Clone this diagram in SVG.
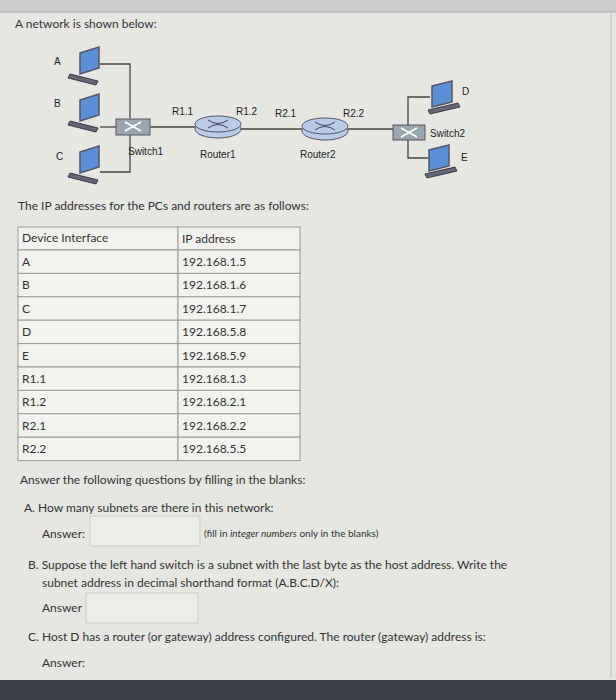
<svg xmlns="http://www.w3.org/2000/svg" width="616" height="700" viewBox="0 0 616 700">
<style>
text{font-family:Lato,"Liberation Sans",sans-serif;fill:#333}
.s{font-size:12px}.n{font-size:10px;font-family:"Liberation Sans",Arial,sans-serif;fill:#222}
.c{fill:none;stroke:#444;stroke-width:1.3}
.cell{fill:#f2f2ef;stroke:#999;stroke-width:1}
.mon{fill:#5b8fd6;stroke:#556;stroke-width:1.5}
.kb{fill:#667;stroke:#223;stroke-width:.8}
.sw{fill:#9aa6ad;stroke:#556;stroke-width:1}
.rt{fill:#b9cbe6;stroke:#556;stroke-width:1}
.x{fill:none;stroke:#fff;stroke-width:1.5}
.rx{fill:none;stroke:#445;stroke-width:1}
.box{fill:#ecece9;stroke:#ccc;stroke-width:1}
</style>
<rect width="616" height="700" fill="#e6e6e3"/>
<rect width="616" height="12" fill="#c9ccca"/>
<line x1="0" y1="12" x2="616" y2="12" stroke="#aaa"/>
<rect x="0" y="680" width="616" height="20" fill="#3a3f47"/>
<line x1="611" y1="14" x2="611" y2="678" stroke="#bbb"/>
<text x="15" y="28" class="s">A network is shown below:</text>
<g id="connectors">
<polyline class="c" points="100,64 130,64 130,118"/>
<line class="c" x1="100" y1="127" x2="116" y2="127"/>
<polyline class="c" points="100,172 130,172 130,135"/>
<line class="c" x1="150" y1="127" x2="195" y2="127"/>
<line class="c" x1="240" y1="129" x2="302" y2="129"/>
<line class="c" x1="348" y1="129" x2="395" y2="129"/>
<polyline class="c" points="430,97 408,97 408,126"/>
<polyline class="c" points="428,158 408,158 408,140"/>
</g>
<g id="A"><polygon class="mon" points="80,53 99,47 99,68 80,74"/><polygon class="kb" points="70,74 98,81 96,85 68,78"/><text x="54" y="65" class="n">A</text></g>
<g id="B"><polygon class="mon" points="80,100 99,94 99,115 80,121"/><polygon class="kb" points="70,121 98,128 96,132 68,125"/><text x="54" y="107" class="n">B</text></g>
<g id="C"><polygon class="mon" points="80,152 99,146 99,167 80,173"/><polygon class="kb" points="70,173 98,180 96,184 68,177"/><text x="56" y="160" class="n">C</text></g>
<g id="Switch1"><rect class="sw" x="116" y="119" width="34" height="16"/><path class="x" d="M125 122 L141 131 M125 131 L141 122"/><text x="128" y="155" class="n">Switch1</text></g>
<g id="Router1"><ellipse class="rt" cx="218" cy="129" rx="23" ry="9"/><ellipse class="rt" cx="218" cy="124" rx="23" ry="8"/><path class="rx" d="M208 120 Q218 127 228 120 M208 128 Q218 121 228 128"/><text x="172" y="115" class="n">R1.1</text><text x="236" y="115" class="n">R1.2</text><text x="200" y="158" class="n">Router1</text></g>
<g id="Router2"><ellipse class="rt" cx="325" cy="131" rx="23" ry="9"/><ellipse class="rt" cx="325" cy="126" rx="23" ry="8"/><path class="rx" d="M315 122 Q325 129 335 122 M315 130 Q325 123 335 130"/><text x="275" y="117" class="n">R2.1</text><text x="343" y="117" class="n">R2.2</text><text x="300" y="158" class="n">Router2</text></g>
<g id="Switch2"><rect class="sw" x="393" y="125" width="32" height="15"/><path class="x" d="M401 128 L417 137 M401 137 L417 128"/><text x="430" y="137" class="n">Switch2</text></g>
<g id="D"><polygon class="mon" points="432,86 452,81 452,102 432,107"/><polygon class="kb" points="428,110 458,103 460,107 430,114"/><text x="462" y="95" class="n">D</text></g>
<g id="E"><polygon class="mon" points="429,150 449,145 449,166 429,171"/><polygon class="kb" points="425,174 455,167 457,171 427,178"/><text x="461" y="161" class="n">E</text></g>
<text x="18" y="210" class="s">The IP addresses for the PCs and routers are as follows:</text>
<g id="table">
<rect class="cell" x="18" y="227" width="160" height="23"/><rect class="cell" x="178" y="227" width="122" height="23"/>
<text x="22" y="242" class="s">Device Interface</text><text x="182" y="243" class="s">IP address</text>
<g class="s">
<rect class="cell" x="18" y="250" width="160" height="23.4"/><rect class="cell" x="178" y="250" width="122" height="23.4"/><text x="22" y="266">A</text><text x="182" y="266">192.168.1.5</text>
<rect class="cell" x="18" y="273.4" width="160" height="23.4"/><rect class="cell" x="178" y="273.4" width="122" height="23.4"/><text x="22" y="289">B</text><text x="182" y="289">192.168.1.6</text>
<rect class="cell" x="18" y="296.8" width="160" height="23.4"/><rect class="cell" x="178" y="296.8" width="122" height="23.4"/><text x="22" y="313">C</text><text x="182" y="313">192.168.1.7</text>
<rect class="cell" x="18" y="320.2" width="160" height="23.4"/><rect class="cell" x="178" y="320.2" width="122" height="23.4"/><text x="22" y="336">D</text><text x="182" y="336">192.168.5.8</text>
<rect class="cell" x="18" y="343.6" width="160" height="23.4"/><rect class="cell" x="178" y="343.6" width="122" height="23.4"/><text x="22" y="360">E</text><text x="182" y="360">192.168.5.9</text>
<rect class="cell" x="18" y="367" width="160" height="23.4"/><rect class="cell" x="178" y="367" width="122" height="23.4"/><text x="22" y="383">R1.1</text><text x="182" y="383">192.168.1.3</text>
<rect class="cell" x="18" y="390.4" width="160" height="23.4"/><rect class="cell" x="178" y="390.4" width="122" height="23.4"/><text x="22" y="406">R1.2</text><text x="182" y="406">192.168.2.1</text>
<rect class="cell" x="18" y="413.8" width="160" height="23.4"/><rect class="cell" x="178" y="413.8" width="122" height="23.4"/><text x="22" y="430">R2.1</text><text x="182" y="430">192.168.2.2</text>
<rect class="cell" x="18" y="437.2" width="160" height="23.4"/><rect class="cell" x="178" y="437.2" width="122" height="23.4"/><text x="22" y="453">R2.2</text><text x="182" y="453">192.168.5.5</text>
</g>
</g>
<g class="s">
<text x="20" y="484">Answer the following questions by filling in the blanks:</text>
<text x="24" y="512">A. How many subnets are there in this network:</text>
<text x="42" y="538">Answer:</text>
<rect class="box" x="90" y="516" width="110" height="30"/>
<text x="204" y="537" style="font-size:10px">(fill in <tspan font-style="italic">integer numbers</tspan> only in the blanks)</text>
<text x="28" y="569">B. Suppose the left hand switch is a subnet with the last byte as the host address. Write the</text>
<text x="42" y="587">subnet address in decimal shorthand format (A.B.C.D/X):</text>
<text x="42" y="612">Answer</text>
<rect class="box" x="86" y="593" width="112" height="30"/>
<text x="28" y="641">C. Host D has a router (or gateway) address configured. The router (gateway) address is:</text>
<text x="42" y="667">Answer:</text>
</g>
</svg>
